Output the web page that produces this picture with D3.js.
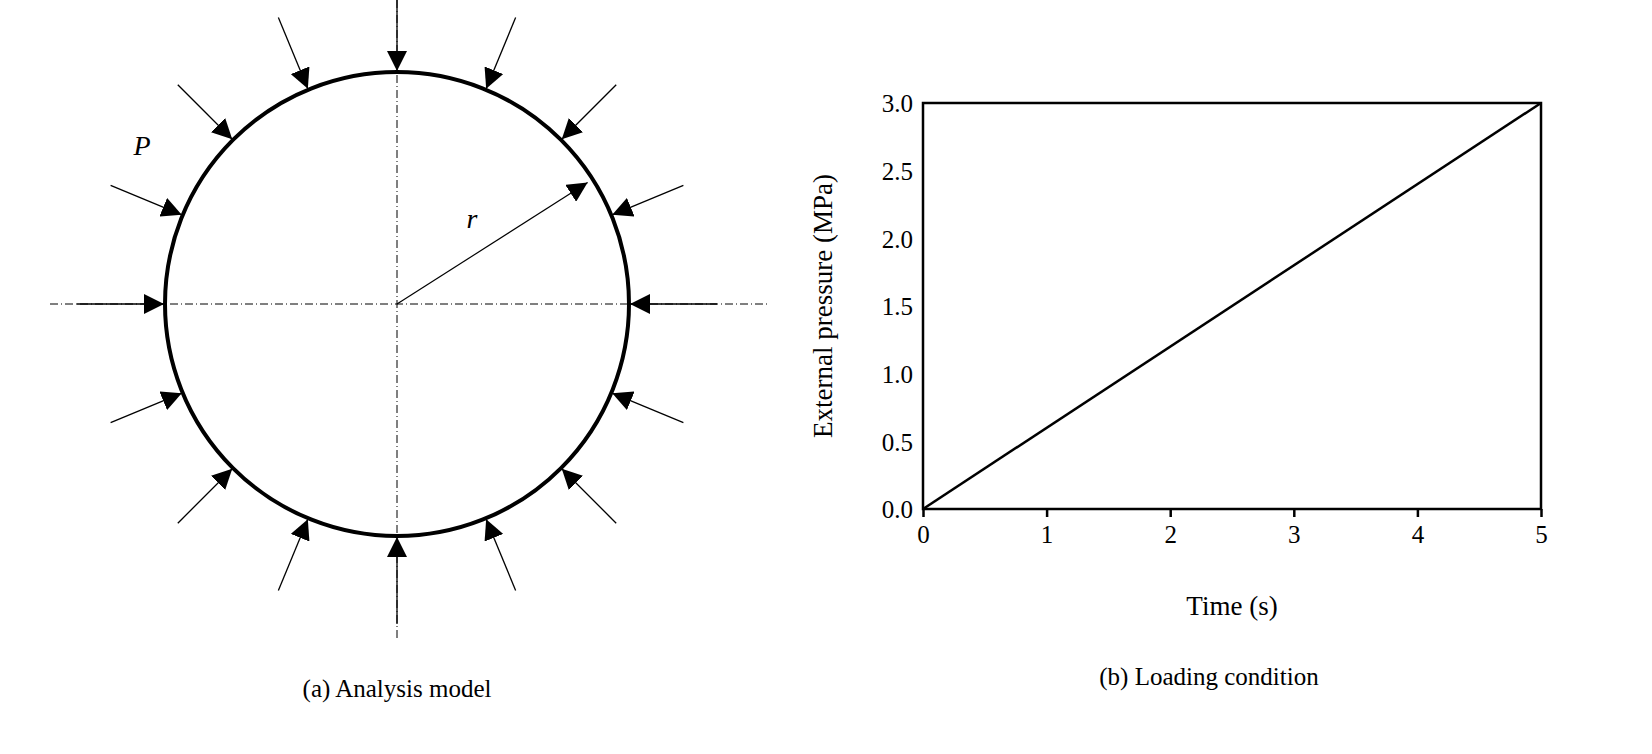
<!DOCTYPE html>
<html lang="en">
<head>
<meta charset="UTF-8">
<title>Analysis model and loading condition</title>
<style>
  body { margin: 0; background: #fff; font-family: "Liberation Serif", "Times New Roman", serif; }
  text { font-family: "Liberation Serif", "Times New Roman", serif; fill: #000; }
</style>
</head>
<body>
<svg width="1652" height="754"></svg>
<script src="https://d3js.org/d3.v7.min.js"></script>
<script>
// Loading data
let timeValues = [0, 5];
let pressureValues = [0, 3.0];
let xTicks = [0, 1, 2, 3, 4, 5];
let yTicks = [0, 0.5, 1.0, 1.5, 2.0, 2.5, 3.0];
// Model: 16 pressure arrows, every 22.5 degrees
let arrowAngles = d3.range(16).map(i => i * 22.5);

let svg = d3.select("svg");

// ---- (a) Analysis model ----
let cx = 397, cy = 304, R = 232;

svg.append("defs").append("marker")
    .attr("id", "head").attr("viewBox", "0 0 10 10")
    .attr("refX", 10).attr("refY", 5)
    .attr("markerWidth", 20).attr("markerHeight", 20)
    .attr("markerUnits", "userSpaceOnUse").attr("orient", "auto")
  .append("path").attr("d", "M0,0L10,5L0,10Z").attr("fill", "#000");

let model = svg.append("g");

// dash-dot center lines
model.append("line").attr("x1", 50).attr("x2", 768).attr("y1", cy).attr("y2", cy)
    .attr("stroke", "#000").attr("stroke-width", 1).attr("stroke-dasharray", "8,3,1,3");
model.append("line").attr("x1", cx).attr("x2", cx).attr("y1", 0).attr("y2", 640)
    .attr("stroke", "#000").attr("stroke-width", 1).attr("stroke-dasharray", "8,3,1,3");

model.append("circle").attr("cx", cx).attr("cy", cy).attr("r", R)
    .attr("fill", "none").attr("stroke", "#000").attr("stroke-width", 4);

model.selectAll("line.arrow").data(arrowAngles).enter().append("line")
    .attr("class", "arrow")
    .each(function(a) {
      let t = a * Math.PI / 180;
      let sx = Math.sin(t), sy = -Math.cos(t);
      let len = (a % 90 === 0) ? 88 : 78;
      d3.select(this)
        .attr("x1", cx + (R + len) * sx).attr("y1", cy + (R + len) * sy)
        .attr("x2", cx + (R + 1) * sx).attr("y2", cy + (R + 1) * sy);
    })
    .attr("stroke", "#000").attr("stroke-width", 1.3)
    .attr("marker-end", "url(#head)");

// radius
let rt = 57.5 * Math.PI / 180;
model.append("line").attr("x1", cx).attr("y1", cy)
    .attr("x2", cx + (R - 6) * Math.sin(rt)).attr("y2", cy - (R - 6) * Math.cos(rt))
    .attr("stroke", "#000").attr("stroke-width", 1.2).attr("marker-end", "url(#head)");

model.append("text").attr("x", 472).attr("y", 228).attr("font-size", 28)
    .attr("font-style", "italic").attr("text-anchor", "middle").text("r");
model.append("text").attr("x", 142).attr("y", 155).attr("font-size", 28)
    .attr("font-style", "italic").attr("text-anchor", "middle").text("P");
model.append("text").attr("x", 397).attr("y", 697).attr("font-size", 25)
    .attr("text-anchor", "middle").text("(a) Analysis model");

// ---- (b) Loading condition ----
let pLeft = 923, pRight = 1541, pTop = 103, pBottom = 509;
let x = d3.scaleLinear().domain([0, 5]).range([pLeft, pRight]);
let y = d3.scaleLinear().domain([0, 3]).range([pBottom, pTop]);

let chart = svg.append("g");

chart.append("rect").attr("x", pLeft).attr("y", pTop)
    .attr("width", pRight - pLeft).attr("height", pBottom - pTop)
    .attr("fill", "none").attr("stroke", "#000").attr("stroke-width", 2.5);

let xAxis = chart.append("g").attr("transform", `translate(0,${pBottom})`)
    .call(d3.axisBottom(x).tickValues(xTicks).tickFormat(d3.format("d")).tickSize(8).tickPadding(8));
let yAxis = chart.append("g").attr("transform", `translate(${pLeft},0)`)
    .call(d3.axisLeft(y).tickValues(yTicks).tickFormat(d3.format(".1f")).tickSize(0).tickPadding(10));
[xAxis, yAxis].forEach(g => {
  g.select(".domain").remove();
  g.selectAll("line").attr("stroke", "#000").attr("stroke-width", 2.5);
  g.selectAll("text").attr("font-size", 25).attr("fill", "#000")
    .style("font-family", "'Liberation Serif', serif");
});
yAxis.selectAll("text").attr("dy", "0.35em");

chart.append("path")
    .datum(timeValues.map((t, i) => [t, pressureValues[i]]))
    .attr("d", d3.line().x(d => x(d[0])).y(d => y(d[1])))
    .attr("fill", "none").attr("stroke", "#000").attr("stroke-width", 2.5);

chart.append("text").attr("x", (pLeft + pRight) / 2).attr("y", 615).attr("font-size", 27)
    .attr("text-anchor", "middle").text("Time (s)");
chart.append("text").attr("transform", `translate(832,${(pTop + pBottom) / 2}) rotate(-90)`)
    .attr("font-size", 27).attr("text-anchor", "middle").text("External pressure (MPa)");
chart.append("text").attr("x", 1209).attr("y", 685).attr("font-size", 25)
    .attr("text-anchor", "middle").text("(b) Loading condition");
</script>
</body>
</html>
